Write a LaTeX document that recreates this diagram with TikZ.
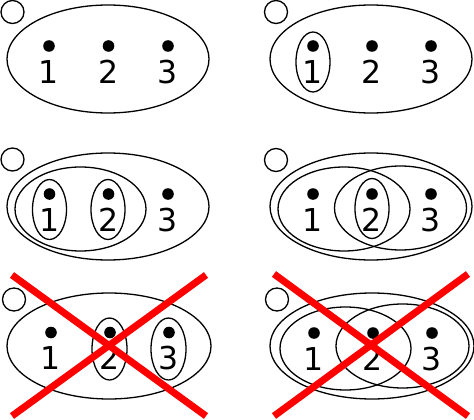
\documentclass[tikz,border=0pt]{standalone}
\usepackage{fontspec}
\setmainfont{DejaVu Sans}
\begin{document}
\begin{tikzpicture}[x=1pt,y=-1pt,
  ring/.style={draw=black,line width=1.3pt},
  blob/.style={fill=black},
  digit/.style={anchor=base,inner sep=0pt,font=\fontsize{31.5}{36}\selectfont},
  cross/.style={draw=red,line width=7pt}]
\useasboundingbox (0,0) rectangle (474,420);
% Panel 1
\draw[ring] (12.5,12) circle [radius=11.5];
\draw[ring] (108,59) ellipse [x radius=101, y radius=54];
\foreach \x/\n in {49/1,108.5/2,168/3}{
  \fill[blob] (\x,46) circle [radius=5.8];
  \node[digit] (pa\n) at (\x,83.5) {\n};
}
% Panel 2
\draw[ring] (276,12) circle [radius=11.5];
\draw[ring] (371,59) ellipse [x radius=101, y radius=54];
\draw[ring] (313,62) ellipse [x radius=17, y radius=30];
\foreach \x/\n in {313/1,372/2,431/3}{
  \fill[blob] (\x,46) circle [radius=5.8];
  \node[digit] (pb\n) at (\x,83.5) {\n};
}
% Panel 3
\draw[ring] (12.5,159.5) circle [radius=11.5];
\draw[ring] (108,206.5) ellipse [x radius=101, y radius=53.5];
\draw[ring] (80.5,209) ellipse [x radius=65.5, y radius=42];
\draw[ring] (49.5,209.5) ellipse [x radius=17, y radius=30];
\draw[ring] (108,209.5) ellipse [x radius=17, y radius=30];
\foreach \x/\n in {49.5/1,108.5/2,168/3}{
  \fill[blob] (\x,194) circle [radius=5.8];
  \node[digit] (pc\n) at (\x,231.5) {\n};
}
% Panel 4
\draw[ring] (276,160) circle [radius=11.5];
\draw[ring] (371,206.5) ellipse [x radius=101, y radius=53.5];
\draw[ring] (344,209) ellipse [x radius=66, y radius=42];
\draw[ring] (400.5,208) ellipse [x radius=66, y radius=42];
\draw[ring] (372,208.5) ellipse [x radius=17, y radius=30];
\foreach \x/\n in {313/1,372/2,431/3}{
  \fill[blob] (\x,194) circle [radius=5.8];
  \node[digit] (pd\n) at (\x,231) {\n};
}
% Panel 5
\draw[ring] (14,299.5) circle [radius=11.5];
\draw[ring] (109,346) ellipse [x radius=102, y radius=53];
\draw[ring] (109.5,349) ellipse [x radius=17.5, y radius=31];
\draw[ring] (168.5,349) ellipse [x radius=17.5, y radius=31];
\foreach \x/\n in {51/1,110/2,169/3}{
  \fill[blob] (\x,332.5) circle [radius=5.8];
  \node[digit] (pe\n) at (\x,369.5) {\n};
}
\coordinate (e1) at (12,275);
\coordinate (e2) at (206,416);
\coordinate (e3) at (206,275);
\coordinate (e4) at (12,416);
\draw[cross] (e1) -- (e2);
\draw[cross] (e3) -- (e4);
% Panel 6
\draw[ring] (277,299.5) circle [radius=11.5];
\draw[ring] (372,346) ellipse [x radius=102, y radius=53];
\draw[ring] (345.5,348.5) ellipse [x radius=65.5, y radius=41.5];
\draw[ring] (402.5,346) ellipse [x radius=66.5, y radius=42];
\foreach \x/\n in {314/1,373/2,432/3}{
  \fill[blob] (\x,333) circle [radius=5.8];
  \node[digit] (pf\n) at (\x,370) {\n};
}
\coordinate (f1) at (274,274);
\coordinate (f2) at (468,416);
\coordinate (f3) at (468,274);
\coordinate (f4) at (274,416);
\draw[cross] (f1) -- (f2);
\draw[cross] (f3) -- (f4);
\end{tikzpicture}
\end{document}
